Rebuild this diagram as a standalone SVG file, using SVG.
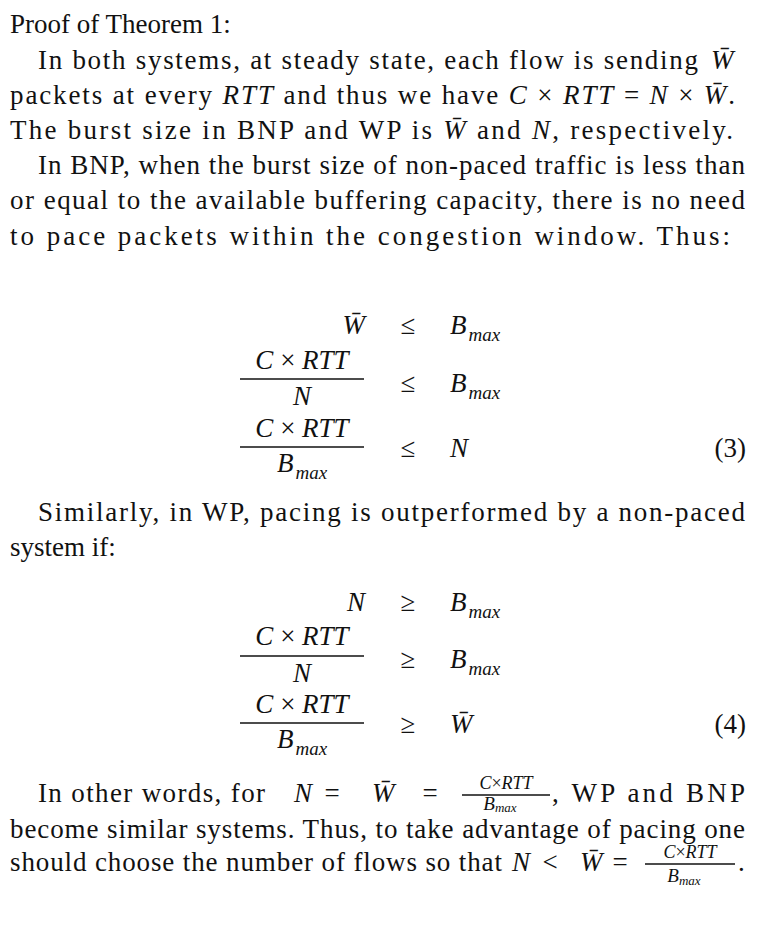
<svg xmlns="http://www.w3.org/2000/svg" width="766" height="928" viewBox="0 0 766 928">
<style>
text{font-family:"Liberation Serif","Times New Roman",serif;font-size:27px;fill:#111}
.i{font-style:italic}
.s{font-size:19px;font-style:italic}
.f{font-size:18px}
.m{text-anchor:middle}
.e{text-anchor:end}
line{stroke:#111;stroke-width:1.4}
</style>
<rect width="766" height="928" fill="#fff"/>
<text x="10" y="33">Proof of Theorem 1:</text>
<text x="38" y="69" textLength="660" lengthAdjust="spacing">In both systems, at steady state, each flow is sending</text>
<text x="711" y="69" class="i">W̄</text>
<text x="10" y="104" textLength="725" lengthAdjust="spacing">packets at every <tspan class="i">RTT</tspan> and thus we have <tspan class="i">C</tspan> × <tspan class="i">RTT</tspan> = <tspan class="i">N</tspan> × <tspan class="i">W̄</tspan>.</text>
<text x="10" y="139" textLength="723" lengthAdjust="spacing">The burst size in BNP and WP is <tspan class="i">W̄</tspan> and <tspan class="i">N</tspan>, respectively.</text>
<text x="38" y="174" textLength="707" lengthAdjust="spacing">In BNP, when the burst size of non-paced traffic is less than</text>
<text x="10" y="209" textLength="735" lengthAdjust="spacing">or equal to the available buffering capacity, there is no need</text>
<text x="10" y="245" textLength="720" lengthAdjust="spacing">to pace packets within the congestion window. Thus:</text>
<g id="eq3">
<text x="365" y="334" class="e i">W̄</text>
<text x="408" y="334" class="m">≤</text>
<text x="450" y="334" class="i">B<tspan class="s" dy="7" dx="2">max</tspan></text>
<text x="302" y="369" class="m"><tspan class="i">C</tspan> × <tspan class="i">RTT</tspan></text>
<line x1="240" y1="379" x2="364" y2="379"/>
<text x="302" y="405" class="m i">N</text>
<text x="408" y="392" class="m">≤</text>
<text x="450" y="392" class="i">B<tspan class="s" dy="7" dx="2">max</tspan></text>
<text x="302" y="437" class="m"><tspan class="i">C</tspan> × <tspan class="i">RTT</tspan></text>
<line x1="240" y1="447" x2="364" y2="447"/>
<text x="302" y="472" class="m i">B<tspan class="s" dy="7" dx="2">max</tspan></text>
<text x="408" y="457" class="m">≤</text>
<text x="450" y="457" class="i">N</text>
<text x="746" y="457" class="e">(3)</text>
</g>
<text x="38" y="521" textLength="707" lengthAdjust="spacing">Similarly, in WP, pacing is outperformed by a non-paced</text>
<text x="10" y="556">system if:</text>
<g id="eq4">
<text x="365" y="611" class="e i">N</text>
<text x="408" y="611" class="m">≥</text>
<text x="450" y="611" class="i">B<tspan class="s" dy="7" dx="2">max</tspan></text>
<text x="302" y="645" class="m"><tspan class="i">C</tspan> × <tspan class="i">RTT</tspan></text>
<line x1="240" y1="656" x2="364" y2="656"/>
<text x="302" y="682" class="m i">N</text>
<text x="408" y="668" class="m">≥</text>
<text x="450" y="668" class="i">B<tspan class="s" dy="7" dx="2">max</tspan></text>
<text x="302" y="713" class="m"><tspan class="i">C</tspan> × <tspan class="i">RTT</tspan></text>
<line x1="240" y1="723" x2="364" y2="723"/>
<text x="302" y="748" class="m i">B<tspan class="s" dy="7" dx="2">max</tspan></text>
<text x="408" y="733" class="m">≥</text>
<text x="450" y="733" class="i">W̄</text>
<text x="746" y="733" class="e">(4)</text>
</g>
<text x="38" y="802" textLength="227" lengthAdjust="spacing">In other words, for</text>
<text x="294" y="802" class="i">N</text>
<text x="332" y="802" class="m">=</text>
<text x="372" y="802" class="i">W̄</text>
<text x="430" y="802" class="m">=</text>
<text x="506" y="789" class="f m"><tspan class="i">C</tspan>×<tspan class="i">RTT</tspan></text>
<line x1="462" y1="795" x2="550" y2="795"/>
<text x="500" y="810" class="s m">B<tspan font-size="13" dy="2">max</tspan></text>
<text x="552" y="802" textLength="193" lengthAdjust="spacing">, WP and BNP</text>
<text x="10" y="838" textLength="735" lengthAdjust="spacing">become similar systems. Thus, to take advantage of pacing one</text>
<text x="10" y="871" textLength="492" lengthAdjust="spacing">should choose the number of flows so that</text>
<text x="512" y="871" class="i">N</text>
<text x="550" y="871" class="m">&lt;</text>
<text x="580" y="871" class="i">W̄</text>
<text x="620" y="871" class="m">=</text>
<text x="690" y="858" class="f m"><tspan class="i">C</tspan>×<tspan class="i">RTT</tspan></text>
<line x1="645" y1="864" x2="735" y2="864"/>
<text x="684" y="882" class="s m">B<tspan font-size="13" dy="3">max</tspan></text>
<text x="738" y="871">.</text>
</svg>
